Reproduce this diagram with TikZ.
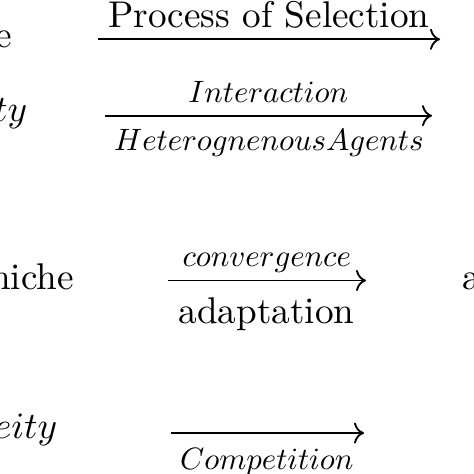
\documentclass[tikz,border=0pt]{standalone}
\usepackage{graphicx}
\usetikzlibrary{arrows.meta}
\newcommand{\smallmath}[1]{\scalebox{0.83}{$#1$}}
\begin{document}
\begin{tikzpicture}[x=0.2688pt,y=-0.2688pt,
    flow/.style={line width=0.5pt, -{Computer Modern Rightarrow}},
    word/.style={inner sep=0pt, font=\fontsize{10}{12}\selectfont},
    lbl/.style={inner sep=0pt, anchor=base}
  ]
  \useasboundingbox (0,0) rectangle (474,474);
  \clip (0,0) rectangle (474,474);

  % left and right column
  \node[word, anchor=base east] (land) at (12.5,48) {e};
  \node[word, anchor=base east] (div) at (28,122) {$ty$};
  \node[word, anchor=base east] (niche) at (74.5,290) {niche};
  \node[word, anchor=base east] (het) at (58,438) {$eity$};
  \node[word, anchor=base west] (adap) at (461.5,290) {a};

  % arrow ends
  \coordinate (selL) at (97.7,39.3);
  \coordinate (selR) at (440,39.3);
  \coordinate (intL) at (105,115.7);
  \coordinate (intR) at (432,115.7);
  \coordinate (conL) at (168,280.5);
  \coordinate (conR) at (366,280.5);
  \coordinate (comL) at (171,433);
  \coordinate (comR) at (364,433);

  \draw[flow] (selL) -- (selR);
  \draw[flow] (intL) -- (intR);
  \draw[flow] (conL) -- (conR);
  \draw[flow] (comL) -- (comR);

  % labels on the arrows
  \node[word, anchor=base] (sel) at (268.8,27.3) {Process of Selection};
  \node[lbl] (inter) at (268.3,103) {\smallmath{Interaction}};
  \node[lbl] (agents) at (269,151) {\smallmath{HeterognenousAgents}};
  \node[lbl] (conv) at (266.8,266.5) {\smallmath{convergence}};
  \node[word, anchor=base] (adapt) at (266.5,324) {adaptation};
  \node[lbl] (comp) at (266.8,469) {\smallmath{Competition}};
\end{tikzpicture}
\end{document}
